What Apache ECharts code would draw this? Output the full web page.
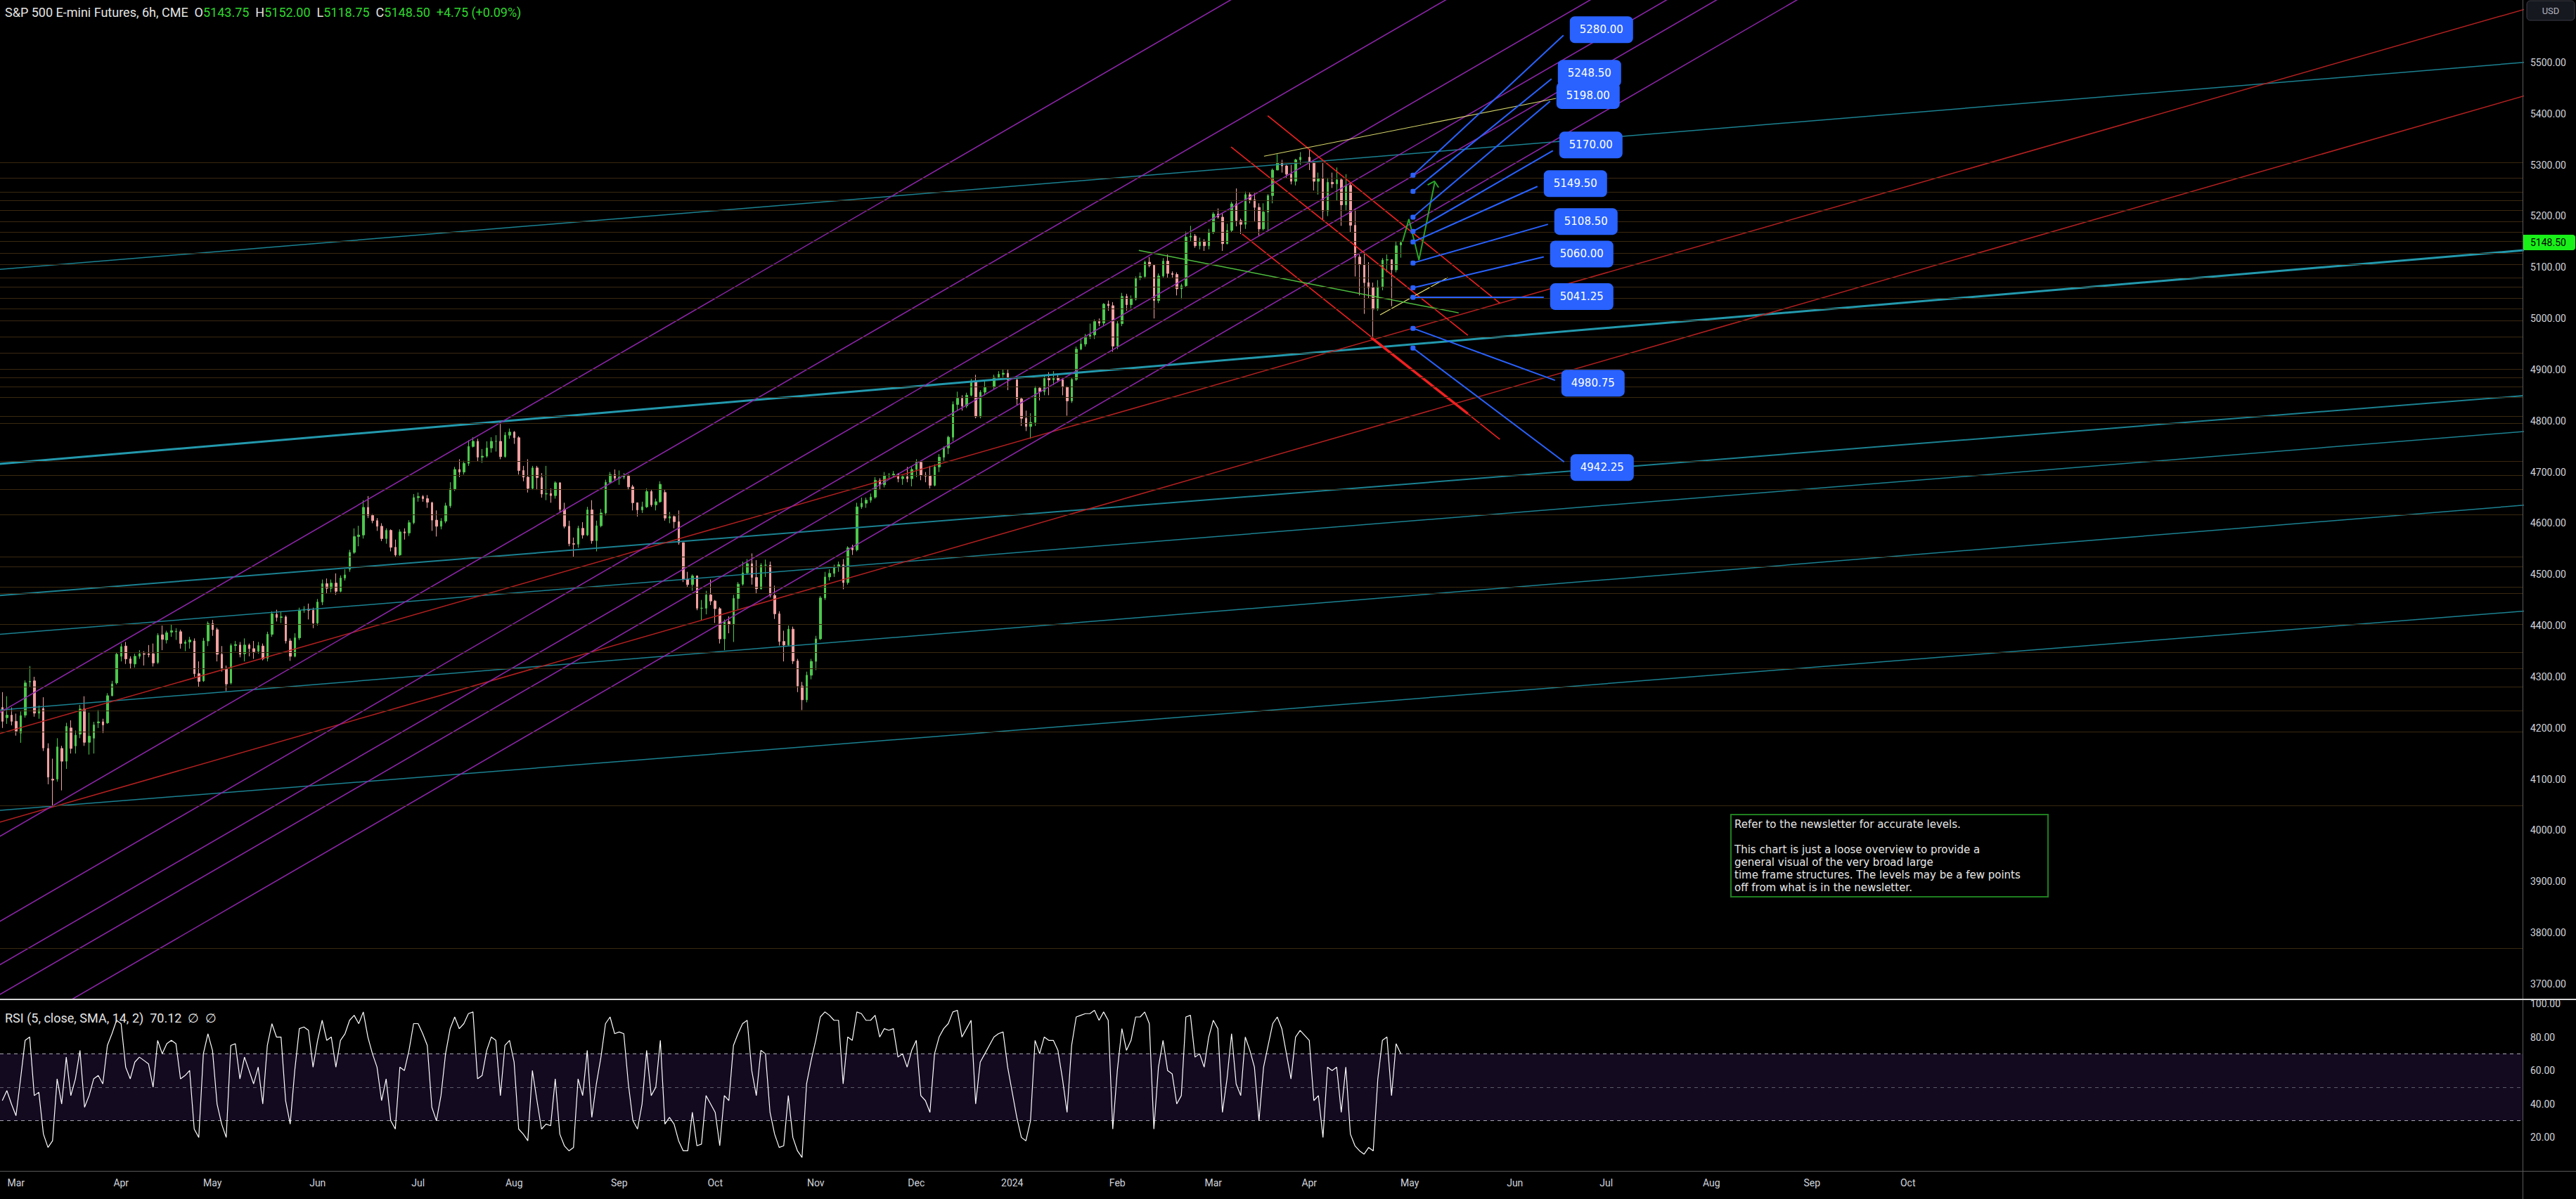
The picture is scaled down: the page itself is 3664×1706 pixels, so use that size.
<!DOCTYPE html>
<html>
<head>
<meta charset="utf-8">
<title>S&P 500 E-mini Futures, 6h, CME</title>
<script src="https://cdn.jsdelivr.net/npm/echarts/dist/echarts.min.js"></script>
<style>
  html, body { margin: 0; padding: 0; background: #000; }
  #main { width: 3664px; height: 1706px; }
</style>
</head>
<body>
<div id="main"></div>
<script>
// one candle per weekday, first slot is 2023-02-24, the rest of the axis is empty future space
const startDate = [2023, 1, 24]
const slotCount = 552
const lastLabelMonth = '2024-10'
const monthNames = ['Jan', 'Feb', 'Mar', 'Apr', 'May', 'Jun', 'Jul', 'Aug', 'Sep', 'Oct', 'Nov', 'Dec']

const lastBar = { o: 5143.75, h: 5152.00, l: 5118.75, c: 5148.50, chg: 4.75, pct: 0.09 }

// [open, close, low, high]
const candles = [
  [4240, 4213, 4200, 4270], [4220, 4225, 4208, 4262], [4225, 4213, 4205, 4240], [4213, 4194, 4185, 4228], [4190, 4224, 4171, 4232],
  [4225, 4288, 4220, 4293], [4290, 4291, 4280, 4321], [4292, 4229, 4222, 4300], [4229, 4235, 4218, 4244], [4238, 4161, 4155, 4260],
  [4160, 4104, 4090, 4170], [4100, 4098, 4047, 4140], [4100, 4163, 4095, 4180], [4160, 4135, 4078, 4165], [4135, 4203, 4120, 4210],
  [4200, 4160, 4150, 4215], [4165, 4186, 4150, 4195], [4188, 4237, 4180, 4245], [4237, 4172, 4165, 4262], [4172, 4184, 4148, 4230],
  [4180, 4206, 4150, 4212], [4210, 4212, 4200, 4235], [4212, 4206, 4190, 4218], [4210, 4263, 4208, 4268], [4263, 4286, 4262, 4292],
  [4288, 4344, 4285, 4348],
  // Apr 2023
  [4340, 4359, 4330, 4365], [4360, 4335, 4325, 4368], [4335, 4326, 4315, 4340], [4325, 4340, 4318, 4345], [4340, 4345, 4335, 4352],
  [4345, 4344, 4322, 4350], [4345, 4343, 4338, 4362], [4345, 4327, 4320, 4365], [4328, 4381, 4325, 4385], [4382, 4373, 4352, 4400],
  [4372, 4386, 4365, 4390], [4387, 4390, 4378, 4402], [4388, 4389, 4372, 4395], [4388, 4365, 4355, 4392], [4365, 4368, 4350, 4372],
  [4368, 4372, 4355, 4378], [4370, 4306, 4300, 4375], [4306, 4291, 4280, 4330], [4292, 4370, 4290, 4376], [4370, 4404, 4360, 4408],
  // May 2023
  [4404, 4392, 4380, 4411], [4392, 4344, 4330, 4396], [4344, 4316, 4310, 4360], [4316, 4286, 4272, 4322], [4288, 4361, 4285, 4365],
  [4361, 4363, 4350, 4370], [4362, 4344, 4338, 4368], [4345, 4362, 4330, 4375], [4362, 4355, 4340, 4365], [4355, 4349, 4335, 4370],
  [4350, 4361, 4345, 4368], [4360, 4335, 4332, 4365], [4336, 4383, 4330, 4388], [4383, 4423, 4378, 4428], [4422, 4416, 4408, 4431],
  [4416, 4417, 4405, 4428], [4417, 4370, 4365, 4420], [4370, 4340, 4331, 4375], [4340, 4376, 4338, 4385], [4376, 4430, 4372, 4435],
  [4430, 4432, 4425, 4438], [4432, 4430, 4412, 4443], [4430, 4405, 4395, 4435], [4405, 4446, 4400, 4452], [4446, 4482, 4440, 4490],
  // Jun 2023
  [4482, 4473, 4462, 4492], [4473, 4483, 4465, 4490], [4483, 4467, 4460, 4502], [4467, 4493, 4465, 4498], [4493, 4499, 4488, 4510],
  [4510, 4543, 4505, 4548], [4543, 4574, 4540, 4590], [4574, 4577, 4555, 4595], [4577, 4631, 4570, 4645], [4631, 4615, 4610, 4653],
  [4615, 4605, 4600, 4618], [4605, 4594, 4585, 4610], [4594, 4570, 4565, 4600], [4570, 4586, 4560, 4590], [4586, 4553, 4545, 4588],
  [4553, 4538, 4535, 4568], [4538, 4583, 4536, 4588], [4583, 4581, 4568, 4590], [4581, 4601, 4575, 4606], [4601, 4650, 4598, 4657],
  // Jul 2023
  [4650, 4652, 4642, 4660], [4652, 4648, 4642, 4655], [4648, 4641, 4630, 4655], [4640, 4606, 4585, 4642], [4606, 4594, 4574, 4625],
  [4594, 4604, 4588, 4610], [4604, 4634, 4600, 4640], [4634, 4667, 4630, 4680], [4667, 4705, 4663, 4710], [4705, 4700, 4690, 4725],
  [4700, 4717, 4695, 4722], [4717, 4750, 4712, 4762], [4750, 4760, 4748, 4768], [4760, 4729, 4720, 4765], [4729, 4731, 4718, 4745],
  [4731, 4747, 4728, 4760], [4747, 4760, 4738, 4768], [4760, 4760, 4740, 4772], [4760, 4730, 4725, 4794], [4730, 4772, 4728, 4778],
  [4772, 4778, 4765, 4785],
  // Aug 2023
  [4778, 4767, 4755, 4780], [4767, 4703, 4695, 4770], [4703, 4690, 4682, 4712], [4690, 4668, 4660, 4725], [4668, 4708, 4665, 4712],
  [4708, 4689, 4665, 4712], [4689, 4657, 4650, 4698], [4657, 4658, 4645, 4712], [4658, 4654, 4640, 4668], [4654, 4679, 4648, 4682],
  [4679, 4627, 4620, 4680], [4627, 4594, 4590, 4640], [4594, 4560, 4555, 4605], [4560, 4559, 4534, 4572], [4559, 4590, 4552, 4595],
  [4590, 4577, 4570, 4602], [4577, 4626, 4575, 4632], [4626, 4566, 4560, 4645], [4566, 4595, 4545, 4605], [4595, 4620, 4592, 4628],
  [4620, 4680, 4615, 4685], [4680, 4695, 4678, 4700], [4695, 4688, 4683, 4705],
  // Sep 2023
  [4688, 4690, 4675, 4703], [4690, 4692, 4686, 4698], [4692, 4671, 4665, 4695], [4671, 4640, 4625, 4675], [4640, 4626, 4613, 4640],
  [4626, 4632, 4620, 4642], [4632, 4662, 4630, 4668], [4662, 4636, 4632, 4665], [4636, 4642, 4625, 4648], [4642, 4676, 4640, 4682],
  [4660, 4610, 4605, 4665], [4610, 4613, 4600, 4622], [4613, 4603, 4590, 4615], [4603, 4562, 4558, 4625], [4562, 4490, 4485, 4560],
  [4490, 4480, 4475, 4505], [4480, 4497, 4468, 4500], [4497, 4434, 4430, 4498], [4434, 4434, 4410, 4450], [4434, 4460, 4422, 4468],
  [4460, 4448, 4440, 4490],
  // Oct 2023
  [4448, 4433, 4405, 4450], [4433, 4374, 4365, 4436], [4374, 4408, 4352, 4412], [4408, 4403, 4385, 4418], [4403, 4453, 4368, 4460],
  [4453, 4481, 4432, 4485], [4481, 4503, 4478, 4525], [4503, 4521, 4500, 4530], [4521, 4494, 4480, 4541], [4494, 4472, 4462, 4528],
  [4472, 4518, 4470, 4522], [4518, 4518, 4495, 4529], [4518, 4459, 4455, 4525], [4459, 4423, 4413, 4478], [4423, 4369, 4361, 4428],
  [4369, 4362, 4330, 4390], [4362, 4393, 4360, 4400], [4393, 4331, 4325, 4398], [4331, 4282, 4270, 4335], [4282, 4255, 4235, 4290],
  [4255, 4303, 4250, 4310], [4303, 4330, 4295, 4335],
  // Nov 2023
  [4330, 4374, 4313, 4380], [4374, 4454, 4372, 4458], [4454, 4495, 4450, 4505], [4495, 4502, 4488, 4510], [4502, 4515, 4495, 4519],
  [4515, 4519, 4505, 4525], [4519, 4484, 4471, 4530], [4484, 4552, 4480, 4555], [4552, 4548, 4538, 4558], [4548, 4632, 4545, 4640],
  [4632, 4639, 4628, 4650], [4639, 4645, 4630, 4650], [4645, 4651, 4640, 4658], [4651, 4684, 4648, 4690], [4684, 4675, 4665, 4688],
  [4675, 4693, 4670, 4700], [4693, 4694, 4688, 4698], [4694, 4696, 4690, 4702], [4696, 4687, 4680, 4698], [4687, 4691, 4675, 4695],
  [4691, 4687, 4680, 4710], [4687, 4705, 4672, 4710],
  // Dec 2023
  [4705, 4719, 4690, 4725], [4719, 4694, 4684, 4720], [4694, 4692, 4680, 4700], [4692, 4674, 4668, 4712], [4674, 4710, 4672, 4715],
  [4710, 4729, 4700, 4735], [4729, 4747, 4722, 4750], [4747, 4768, 4735, 4771], [4768, 4832, 4760, 4838], [4832, 4844, 4820, 4857],
  [4844, 4829, 4820, 4850], [4829, 4850, 4825, 4855], [4850, 4878, 4848, 4882], [4878, 4808, 4805, 4890], [4808, 4856, 4805, 4860],
  [4856, 4865, 4850, 4880], ['-', '-', '-', '-'], [4866, 4885, 4862, 4890], [4885, 4891, 4880, 4897], [4891, 4893, 4885, 4901],
  [4893, 4880, 4860, 4900],
  // Jan 2024
  ['-', '-', '-', '-'], [4880, 4843, 4830, 4885], [4843, 4805, 4790, 4845], [4805, 4789, 4780, 4820], [4789, 4797, 4765, 4815],
  [4797, 4864, 4790, 4868], [4864, 4857, 4840, 4865], [4857, 4883, 4850, 4890], [4883, 4880, 4850, 4895], [4880, 4884, 4870, 4897],
  [4884, 4880, 4875, 4890], [4880, 4866, 4850, 4885], [4866, 4839, 4810, 4868], [4839, 4881, 4835, 4885], [4881, 4940, 4878, 4945],
  [4940, 4950, 4938, 4962], [4950, 4965, 4945, 4970], [4965, 4968, 4960, 4990], [4968, 4994, 4960, 4998], [4994, 4991, 4985, 5000],
  [4991, 5028, 4985, 5030], [5028, 5025, 5015, 5035], [5025, 4946, 4935, 5032],
  // Feb 2024
  [4946, 4990, 4940, 4995], [4990, 5043, 4985, 5050], [5043, 5027, 5015, 5048], [5027, 5038, 5020, 5045], [5038, 5079, 5035, 5082],
  [5079, 5082, 5075, 5090], [5082, 5110, 5078, 5113], [5110, 5104, 5100, 5120], [5104, 5035, 5000, 5105], [5035, 5083, 5030, 5088],
  [5083, 5112, 5080, 5118], [5112, 5088, 5080, 5125], [5088, 5086, 5080, 5092], [5086, 5058, 5045, 5090], [5058, 5064, 5038, 5068],
  [5064, 5159, 5062, 5170], [5159, 5161, 5150, 5181], [5161, 5142, 5138, 5165], [5142, 5150, 5135, 5158], [5150, 5142, 5132, 5155],
  [5142, 5168, 5135, 5175],
  // Mar 2024
  [5168, 5204, 5165, 5208], [5204, 5198, 5195, 5215], [5198, 5146, 5132, 5205], [5146, 5172, 5145, 5185], [5172, 5224, 5168, 5228],
  [5224, 5191, 5180, 5254], [5191, 5184, 5165, 5195], [5184, 5242, 5175, 5248], [5242, 5232, 5225, 5246], [5232, 5217, 5190, 5245],
  [5217, 5175, 5162, 5225], [5175, 5208, 5172, 5225], [5208, 5240, 5172, 5243], [5240, 5290, 5225, 5293], [5290, 5304, 5290, 5321],
  [5304, 5298, 5285, 5310], [5298, 5282, 5275, 5300], [5282, 5268, 5262, 5300], [5268, 5310, 5260, 5312], [5310, 5315, 5300, 5325],
  ['-', '-', '-', '-'],
  // Apr 2024
  [5315, 5305, 5290, 5331], [5305, 5268, 5250, 5307], [5268, 5273, 5242, 5285], [5273, 5210, 5194, 5305], [5210, 5266, 5200, 5275],
  [5266, 5263, 5255, 5285], [5263, 5271, 5230, 5295], [5271, 5222, 5181, 5274], [5222, 5260, 5210, 5282], [5260, 5182, 5169, 5265],
  [5182, 5120, 5082, 5215], [5120, 5105, 5045, 5125], [5105, 5070, 5009, 5130], [5070, 5060, 5040, 5110], [5060, 5018, 4963, 5070],
  [5018, 5062, 5015, 5075], [5062, 5114, 5055, 5118], [5114, 5115, 5090, 5125], [5115, 5095, 5024, 5110], [5095, 5142, 5090, 5150],
  [5143.75, 5148.5, 5118.75, 5152]
]

// RSI(5) read per slot
const rsi = [
  42, 48, 40, 33, 55, 78, 80, 45, 47, 22, 14, 18, 55, 40, 68, 45, 55, 72, 38, 45, 55, 57, 52, 75, 82, 90,
  88, 62, 55, 65, 68, 66, 64, 50, 78, 70, 76, 78, 76, 55, 57, 60, 25, 20, 70, 82,
  72, 40, 28, 20, 75, 76, 55, 68, 60, 52, 62, 40, 75, 88, 80, 80, 42, 28, 60, 85, 86, 84, 62, 78, 90,
  78, 80, 62, 78, 82, 90, 93, 88, 95, 80, 70, 62, 42, 55, 30, 25, 62, 60, 72, 88,
  88, 82, 75, 38, 30, 45, 70, 85, 92, 85, 88, 94, 95, 55, 57, 72, 80, 78, 45, 75, 78,
  65, 25, 22, 18, 60, 42, 25, 28, 27, 55, 22, 15, 12, 14, 55, 45, 72, 32, 52, 68, 88, 92, 82,
  83, 82, 52, 30, 25, 40, 72, 45, 50, 78, 28, 32, 28, 18, 12, 12, 35, 15, 16, 45, 40,
  35, 15, 45, 42, 75, 82, 88, 90, 60, 45, 72, 70, 35, 22, 14, 15, 45, 20, 12, 8, 52, 66,
  78, 92, 95, 93, 90, 90, 52, 80, 78, 95, 94, 90, 90, 93, 80, 85, 84, 85, 68, 70, 62, 72,
  78, 45, 42, 35, 70, 80, 85, 88, 95, 96, 80, 85, 90, 40, 65, 70, '-', 80, 82, 83, 62,
  '-', 32, 20, 18, 30, 78, 70, 80, 78, 78, 72, 55, 35, 75, 92, 93, 94, 94, 96, 90, 95, 90, 25,
  60, 85, 72, 78, 92, 92, 95, 88, 25, 62, 78, 60, 58, 40, 45, 92, 93, 68, 70, 62, 80,
  90, 85, 35, 55, 82, 52, 45, 80, 72, 62, 30, 62, 75, 88, 92, 85, 70, 55, 80, 84, '-',
  78, 42, 45, 20, 62, 60, 62, 35, 62, 22, 15, 12, 10, 14, 12, 55, 78, 80, 45, 76, 70.12
]

const priceTicks = [3700, 3800, 3900, 4000, 4100, 4200, 4300, 4400, 4500, 4600, 4700, 4800, 4900, 5000, 5100, 5200, 5300, 5400, 5500]
const rsiTicks = [20, 40, 60, 80, 100]

// faint horizontal levels
const levels = [5304, 5275, 5247, 5231, 5211, 5190, 5169, 5151, 5127, 5106, 5080, 5061, 5040, 5019, 4996, 4964, 4933,
  4901, 4885, 4867, 4846, 4809, 4795, 4721, 4694, 4666, 4617, 4535, 4515, 4476, 4463, 4403, 4347, 4316, 4281, 4234,
  4193, 4049, 3770]

// drawings, two anchor points each: [slot, price]
const purpleLines = [
  [[0, 4233], [261, 5582]],
  [[0, 3991], [261, 5339]],
  [[0, 3825], [261, 5175]],
  [[0, 3740], [261, 5089]],
  [[0, 3682], [261, 5032]],
  [[0, 3591], [261, 4941]]
]
const tealLines = [
  [[-0.5, 5096], [551.5, 5500]],
  [[-0.5, 4716], [551.5, 5133]],
  [[-0.5, 4459], [551.5, 4849]],
  [[-0.5, 4383], [551.5, 4779]],
  [[-0.5, 4235], [551.5, 4635]],
  [[-0.5, 4039], [551.5, 4428]]
]
const redRays = [
  [[-0.5, 4016], [551.5, 5434]],
  [[-0.5, 4189], [551.5, 5603]]
]
const channelLines = [
  [[276.9, 5396], [327.7, 5030]],
  [[268.9, 5335], [320.7, 4967]],
  [[271.3, 5165], [327.7, 4764]]
]
const channelBold = [[299.5, 4963], [320.7, 4814]]
const yellowLines = [
  [[276.1, 5317], [340.0, 5430]],
  [[301.5, 5007], [316.3, 5080]]
]
const greenLine = [[248.7, 5133], [318.7, 5011]]
const zigzag = [[306.4, 5150], [307.8, 5194], [310.0, 5114], [313.5, 5268]]
const arrowHead = [[311.9, 5261], [313.4, 5268], [314.3, 5256]]

const calloutSlot = 308.7
const calloutPrices = [5280, 5248.5, 5198, 5170, 5149.5, 5108.5, 5060, 5041.25, 4980.75, 4942.25]
// label box centre, pixels from the anchor dot
const calloutBox = [[268, -207], [251, -168], [249, -173], [253, -123], [231, -83], [246, -59], [240, -48], [240, -1], [256, 78], [269, 170]]

const noteLines = [
  'Refer to the newsletter for accurate levels.',
  '',
  'This chart is just a loose overview to provide a',
  'general visual of the very broad large',
  'time frame structures. The levels may be a few points',
  'off from what is in the newsletter.'
]

// categories: weekdays from startDate
const categories = []
const monthLabel = {}
{
  const d = new Date(Date.UTC(startDate[0], startDate[1], startDate[2]))
  let prevMonth = d.getUTCMonth()
  while (categories.length < slotCount) {
    const wd = d.getUTCDay()
    if (wd !== 0 && wd !== 6) {
      const y = d.getUTCFullYear()
      const m = d.getUTCMonth()
      const key = y + '-' + String(m + 1).padStart(2, '0')
      if (m !== prevMonth && key <= lastLabelMonth) {
        monthLabel[categories.length] = m === 0 ? String(y) : monthNames[m]
      }
      prevMonth = m
      categories.push(key + '-' + String(d.getUTCDate()).padStart(2, '0'))
    }
    d.setUTCDate(d.getUTCDate() + 1)
  }
}

const xMin = -0.5
const xMax = slotCount - 0.5

function extendLine (pts) {
  const [a, b] = pts
  const k = (b[1] - a[1]) / (b[0] - a[0])
  return [[-20, a[1] + k * (-20 - a[0])], [580, a[1] + k * (580 - a[0])]]
}

function drawing (data, color, width, z) {
  return {
    type: 'line',
    xAxisIndex: 2,
    yAxisIndex: 0,
    data: data,
    symbol: 'none',
    clip: true,
    silent: true,
    animation: false,
    lineStyle: { color: color, width: width },
    z: z || 4
  }
}

const font = 'Roboto'
const series = []

series.push({
  type: 'candlestick',
  xAxisIndex: 0,
  yAxisIndex: 0,
  data: candles,
  barWidth: 3,
  z: 3,
  itemStyle: {
    color: '#4cc84c',
    color0: '#f2a0a0',
    borderColor: '#4cc84c',
    borderColor0: '#f2a0a0',
    borderWidth: 1
  },
  markLine: {
    silent: true,
    symbol: 'none',
    animation: false,
    label: { show: false },
    lineStyle: { color: '#3a2810', width: 1, type: 'solid' },
    data: levels.map(p => ({ yAxis: p }))
  }
})

const tealWidth = [1.5, 3, 2, 1.5, 1.5, 1.5]
tealLines.forEach((l, k) => {
  series.push(drawing(extendLine(l), k === 1 ? '#2399ad' : '#1b8292', tealWidth[k]))
})
redRays.forEach(l => series.push(drawing(extendLine(l), '#b52020', 1.5)))
purpleLines.forEach(l => series.push(drawing(extendLine(l), '#9226b0', 1.5)))
channelLines.forEach(l => series.push(drawing(l, '#f02020', 1.6)))
series.push(drawing(channelBold, '#f02020', 3.5))
series.push(drawing(yellowLines[0], '#d6d66a', 1.2))
series.push(drawing(yellowLines[1], '#e0e070', 1.2))
series.push(drawing(greenLine, '#4fbf3f', 1.5))
series.push(drawing(zigzag, '#2aa52a', 2, 6))
series.push(drawing(arrowHead, '#2aa52a', 2, 6))

series.push({
  type: 'custom',
  xAxisIndex: 2,
  yAxisIndex: 0,
  z: 8,
  silent: true,
  animation: false,
  clip: false,
  data: calloutPrices.map((p, k) => [calloutSlot, p, k]),
  renderItem: (params, api) => {
    const k = api.value(2)
    const pt = api.coord([api.value(0), api.value(1)])
    const off = calloutBox[k]
    const bx = pt[0] + off[0]
    const by = pt[1] + off[1]
    const ly = by + (off[1] < -100 ? 8 : off[1] < -30 ? 4 : off[1] > 100 ? -8 : off[1] > 30 ? -4 : 1)
    return {
      type: 'group',
      children: [
        { type: 'line', shape: { x1: pt[0], y1: pt[1], x2: bx - 54, y2: ly }, style: { stroke: '#2962ff', lineWidth: 2 } },
        { type: 'rect', shape: { x: pt[0] - 3.5, y: pt[1] - 3.5, width: 7, height: 7, r: 2 }, style: { fill: '#2962ff' } },
        { type: 'rect', shape: { x: bx - 45, y: by - 19, width: 90, height: 38, r: 7 }, style: { fill: '#2962ff' } },
        {
          type: 'text',
          style: {
            text: calloutPrices[k].toFixed(2),
            x: bx,
            y: by,
            fill: '#ffffff',
            fontSize: 15,
            fontFamily: 'DejaVu Sans',
            align: 'center',
            verticalAlign: 'middle'
          }
        }
      ]
    }
  }
})

// RSI pane
series.push({
  type: 'line',
  xAxisIndex: 1,
  yAxisIndex: 1,
  data: [],
  silent: true,
  z: 1,
  markArea: {
    silent: true,
    itemStyle: { color: '#130a20' },
    data: [[{ yAxis: 30 }, { yAxis: 70 }]]
  },
  markLine: {
    silent: true,
    symbol: 'none',
    animation: false,
    label: { show: false },
    data: [
      { yAxis: 70, lineStyle: { color: '#a8a8b0', width: 1, type: [5, 5] } },
      { yAxis: 50, lineStyle: { color: '#5a5a68', width: 1, type: [5, 5] } },
      { yAxis: 30, lineStyle: { color: '#a8a8b0', width: 1, type: [5, 5] } }
    ]
  }
})
series.push({
  type: 'line',
  xAxisIndex: 1,
  yAxisIndex: 1,
  data: rsi,
  symbol: 'none',
  connectNulls: true,
  z: 5,
  lineStyle: { color: '#ffffff', width: 1.2 }
})

const chart = echarts.init(document.getElementById('main'), null, { renderer: 'svg' })

const fmt = v => v.toFixed(2)
chart.setOption({
  backgroundColor: '#000000',
  animation: false,
  textStyle: { fontFamily: font },
  title: [
    {
      left: 2,
      top: 3,
      text: '{w|S&P 500 E-mini Futures, 6h, CME}  {w|O}{g|' + fmt(lastBar.o) + '}  {w|H}{g|' + fmt(lastBar.h) +
        '}  {w|L}{g|' + fmt(lastBar.l) + '}  {w|C}{g|' + fmt(lastBar.c) + '}  {g|+' + fmt(lastBar.chg) +
        ' (+' + fmt(lastBar.pct) + '%)}',
      textStyle: {
        fontSize: 18,
        fontWeight: 'normal',
        rich: {
          w: { color: '#e3e3e3', fontSize: 18, fontFamily: font },
          g: { color: '#2fd62f', fontSize: 18, fontFamily: font }
        }
      }
    },
    {
      left: 2,
      top: 1434,
      text: 'RSI (5, close, SMA, 14, 2)  ' + fmt(rsi[rsi.length - 1]) + '  \u2205  \u2205',
      textStyle: { color: '#e3e3e3', fontSize: 18, fontWeight: 'normal', fontFamily: font }
    }
  ],
  grid: [
    { left: 0, right: 76, top: 0, height: 1422 },
    { left: 0, right: 76, top: 1422, height: 244 }
  ],
  xAxis: [
    { type: 'category', gridIndex: 0, data: categories, show: false },
    {
      type: 'category',
      gridIndex: 1,
      data: categories,
      axisLine: { show: false },
      axisTick: { show: false },
      splitLine: { show: false },
      axisLabel: {
        interval: idx => monthLabel[idx] !== undefined,
        formatter: (v, idx) => monthLabel[idx] || '',
        color: '#d1d4dc',
        fontSize: 14,
        fontFamily: font,
        margin: 10
      }
    },
    { type: 'value', gridIndex: 0, min: xMin, max: xMax, show: false }
  ],
  yAxis: [
    {
      type: 'value',
      gridIndex: 0,
      position: 'right',
      min: 3669.7,
      max: 5622.2,
      splitLine: { show: false },
      axisTick: { show: false },
      axisLine: { show: false },
      axisLabel: { customValues: priceTicks, formatter: fmt, color: '#d1d4dc', fontSize: 14, fontFamily: font, margin: 11 }
    },
    {
      type: 'value',
      gridIndex: 1,
      position: 'right',
      min: 0,
      max: 102.5,
      splitLine: { show: false },
      axisTick: { show: false },
      axisLine: { show: false },
      axisLabel: { customValues: rsiTicks, formatter: fmt, color: '#d1d4dc', fontSize: 14, fontFamily: font, margin: 11 }
    }
  ],
  series: series
})

const yLast = chart.convertToPixel({ yAxisIndex: 0 }, lastBar.c)
chart.setOption({
  graphic: [
    { type: 'line', shape: { x1: 3588.5, y1: 0, x2: 3588.5, y2: 1706 }, style: { stroke: '#5a5a5a', lineWidth: 1 }, z: 20 },
    { type: 'line', shape: { x1: 0, y1: 1422, x2: 3664, y2: 1422 }, style: { stroke: '#d6d6d6', lineWidth: 2 }, z: 20 },
    { type: 'line', shape: { x1: 0, y1: 1666.5, x2: 3664, y2: 1666.5 }, style: { stroke: '#5a5a5a', lineWidth: 1 }, z: 20 },
    {
      type: 'group',
      x: 2462,
      y: 1159,
      z: 30,
      children: [
        { type: 'rect', shape: { x: 0, y: 0, width: 451, height: 117 }, style: { fill: '#000000', stroke: '#1f7f1f', lineWidth: 2 } },
        {
          type: 'text',
          x: 5,
          y: 5,
          style: { text: noteLines.join('\n'), fill: '#e6e6e6', fontSize: 15, fontFamily: 'DejaVu Sans', lineHeight: 18 }
        }
      ]
    },
    {
      type: 'group',
      x: 3594,
      y: 1,
      z: 30,
      children: [
        { type: 'rect', shape: { x: 0, y: 0, width: 68, height: 28, r: 5 }, style: { fill: '#16181f', stroke: '#3a3d47', lineWidth: 1 } },
        { type: 'text', style: { text: 'USD', x: 34, y: 14, fill: '#b2b5be', fontSize: 13, fontFamily: font, align: 'center', verticalAlign: 'middle' } }
      ]
    },
    {
      type: 'group',
      x: 3589,
      y: yLast - 11,
      z: 30,
      children: [
        { type: 'rect', shape: { x: 0, y: 0, width: 74, height: 22, r: [0, 4, 4, 0] }, style: { fill: '#19f019' } },
        { type: 'text', style: { text: fmt(lastBar.c), x: 10, y: 11, fill: '#000000', fontSize: 14, fontFamily: font, verticalAlign: 'middle' } }
      ]
    }
  ]
})
</script>
</body>
</html>
